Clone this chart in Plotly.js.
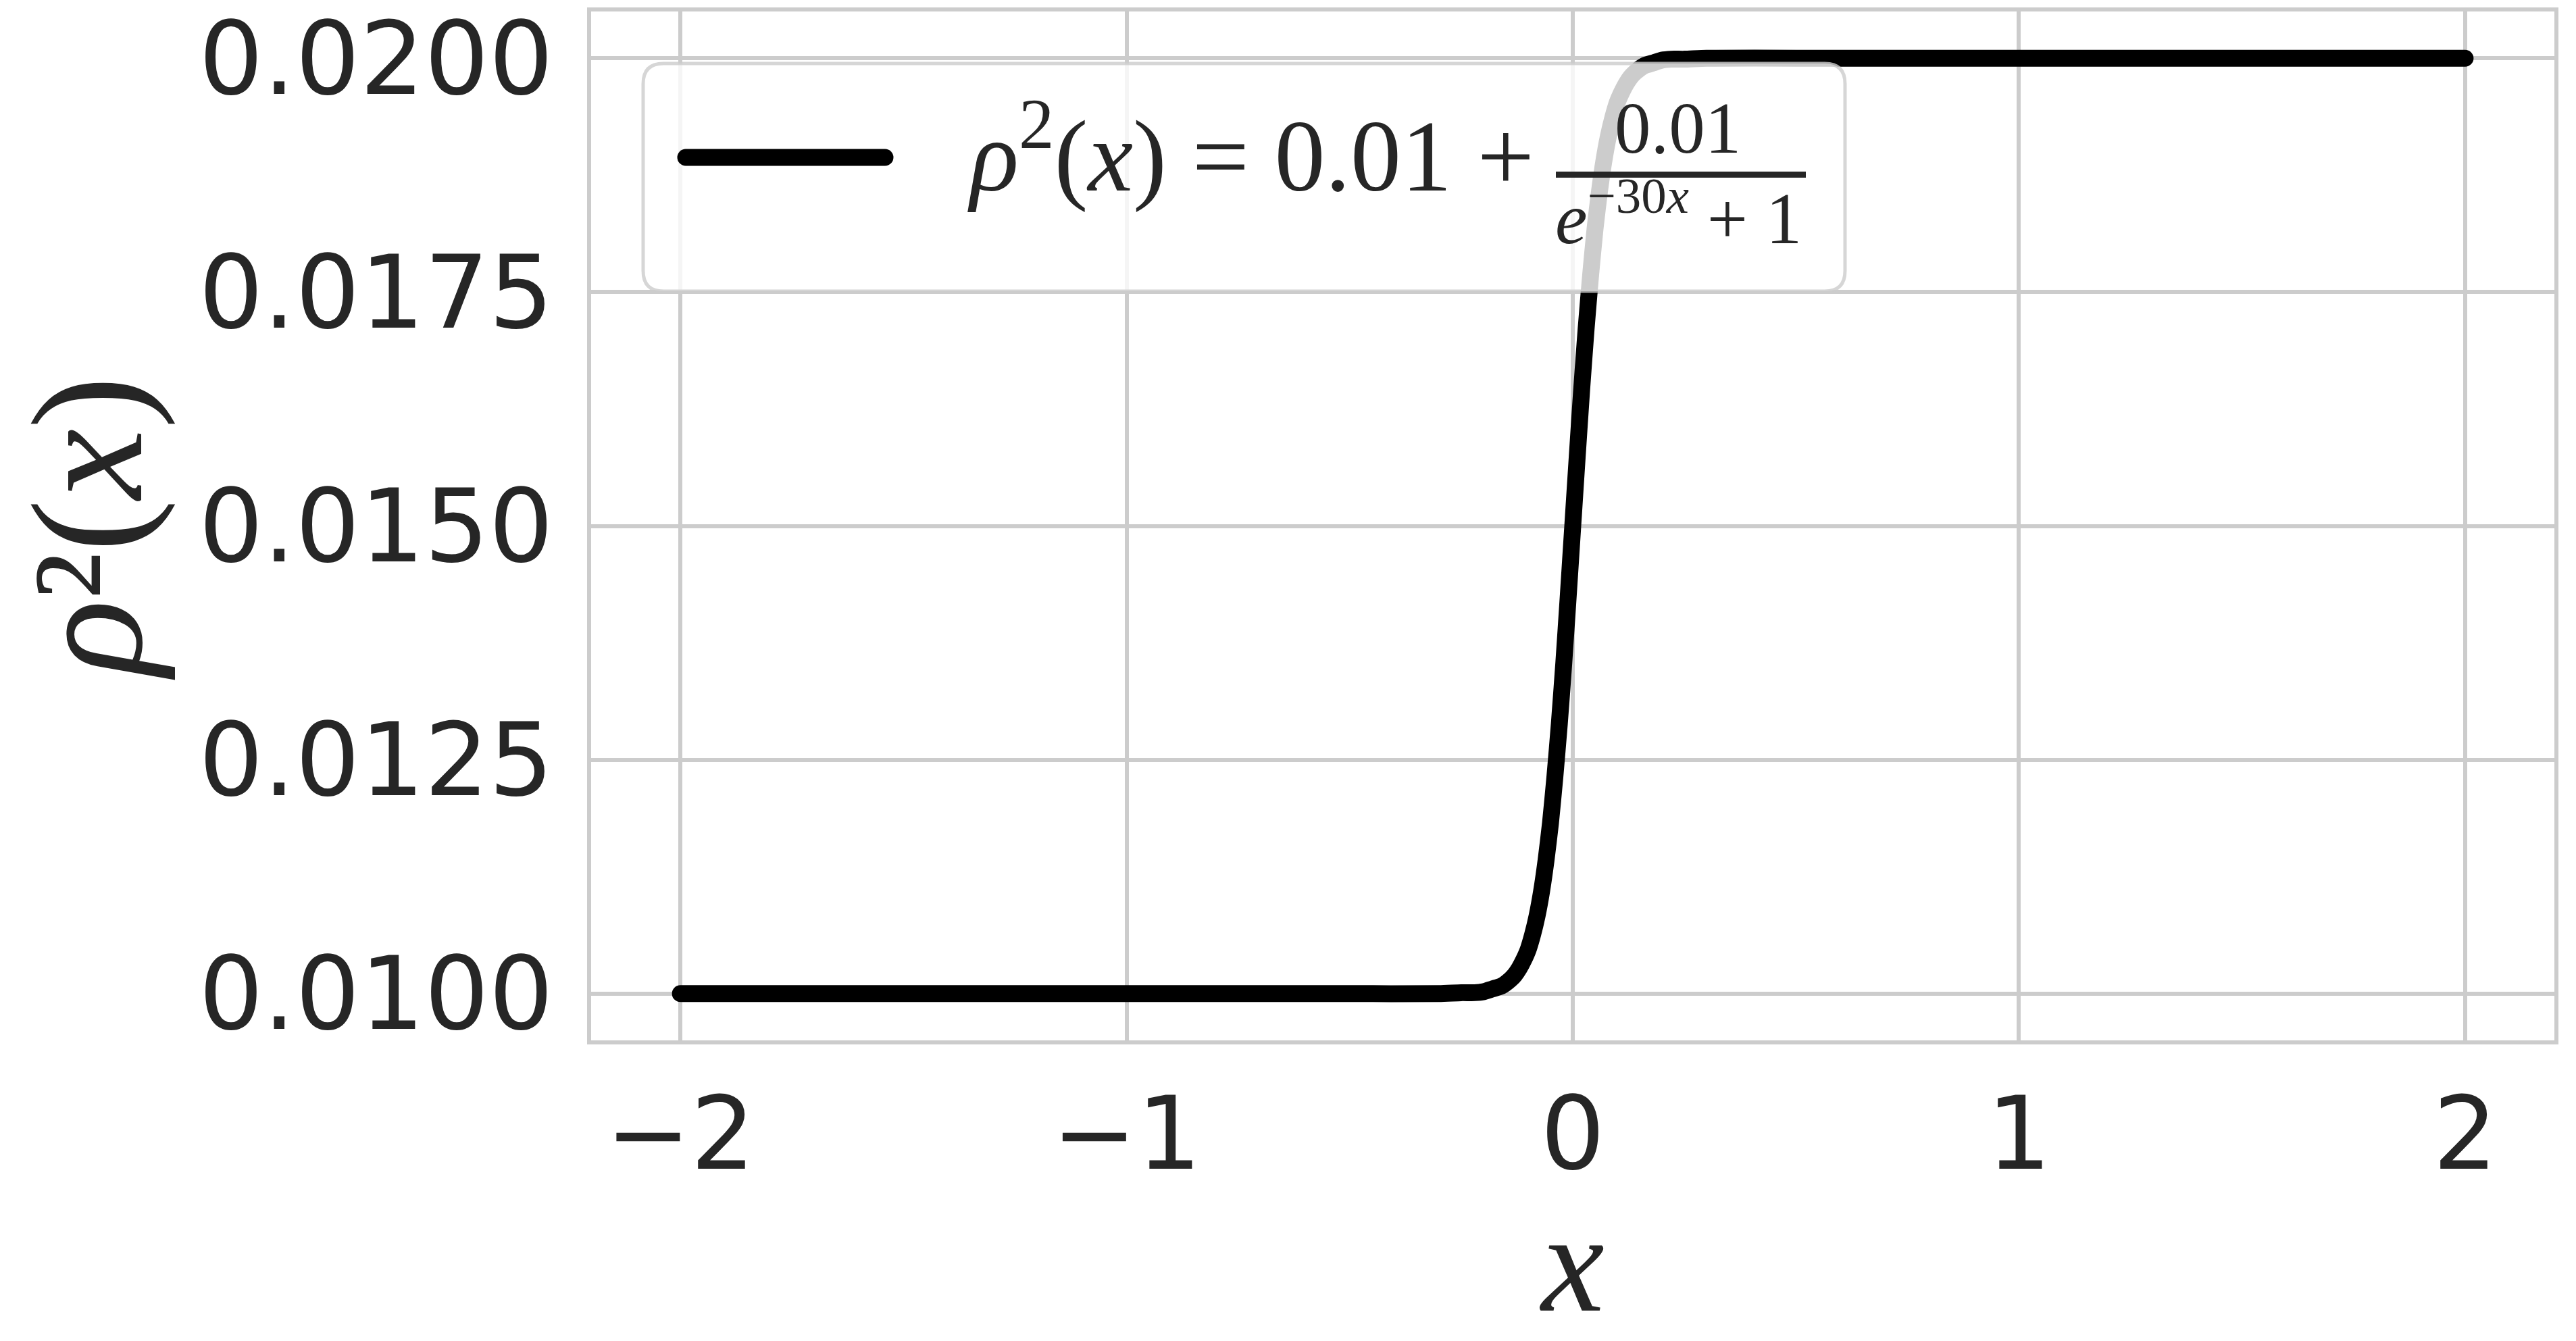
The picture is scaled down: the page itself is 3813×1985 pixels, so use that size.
<!DOCTYPE html>
<html>
<head>
<meta charset="utf-8">
<script src="https://cdn.plot.ly/plotly-3.0.1.min.js"></script>
<style>
  html, body { margin: 0; padding: 0; background: #ffffff; }
  #chart { width: 3813px; height: 1985px; }
  .scatterlayer .js-line { stroke-linecap: round; stroke-linejoin: round; }
  .shapelayer path { stroke-linecap: round; }
</style>
</head>
<body>
<div id="chart"></div>
<script>
// ---- data ----
var xValues = [-2.0, -1.0, -0.5, -0.3, -0.25, -0.22, -0.2, -0.18, -0.16, -0.14, -0.13, -0.12, -0.11, -0.10,
               -0.09, -0.08, -0.07, -0.06, -0.05, -0.04, -0.03, -0.02, -0.01, 0.0,
               0.01, 0.02, 0.03, 0.04, 0.05, 0.06, 0.07, 0.08, 0.09, 0.10, 0.11, 0.12, 0.13, 0.14,
               0.16, 0.18, 0.2, 0.22, 0.25, 0.3, 0.5, 1.0, 2.0];
var rhoSquared = [0.01000, 0.01000, 0.01000, 0.01000, 0.01001, 0.01001, 0.01002, 0.01005, 0.01008, 0.01015, 0.01020, 0.01027, 0.01036, 0.01047,
                  0.01063, 0.01083, 0.01109, 0.01142, 0.01182, 0.01232, 0.01289, 0.01354, 0.01426, 0.01500,
                  0.01574, 0.01646, 0.01711, 0.01768, 0.01818, 0.01858, 0.01891, 0.01917, 0.01937, 0.01953, 0.01964, 0.01973, 0.01980, 0.01985,
                  0.01992, 0.01995, 0.01998, 0.01999, 0.01999, 0.02000, 0.02000, 0.02000, 0.02000];
var xTickVals = [-2, -1, 0, 1, 2];
var xTickText = ["\u22122", "\u22121", "0", "1", "2"];
var yTickVals = [0.0100, 0.0125, 0.0150, 0.0175, 0.0200];
var yTickText = ["0.0100", "0.0125", "0.0150", "0.0175", "0.0200"];
var seriesName = "\u03c1\u00b2(x) = 0.01 + 0.01/(e\u207b\u00b3\u2070\u02e3 + 1)";

// ---- layout geometry (pixels) ----
var W = 3813, H = 1985;
var L = 875, R = 3781, T = 17, B = 1540;
function px(p) { return (p - L) / (R - L); }
function py(p) { return (B - p) / (B - T); }

var textColor = "#262626";
var serif = "Liberation Serif, Times New Roman, serif";

// rounded legend frame path (paper coords)
function roundedRect(x0, y0, x1, y1, r) {
  function P(a, b) { return px(a).toFixed(5) + "," + py(b).toFixed(5); }
  return "M" + P(x0 + r, y0) + " L" + P(x1 - r, y0) + " Q" + P(x1, y0) + " " + P(x1, y0 + r) +
         " L" + P(x1, y1 - r) + " Q" + P(x1, y1) + " " + P(x1 - r, y1) +
         " L" + P(x0 + r, y1) + " Q" + P(x0, y1) + " " + P(x0, y1 - r) +
         " L" + P(x0, y0 + r) + " Q" + P(x0, y0) + " " + P(x0 + r, y0) + " Z";
}

var trace = {
  x: xValues,
  y: rhoSquared,
  type: "scatter",
  mode: "lines",
  name: seriesName,
  line: { color: "#000000", width: 25, shape: "spline", smoothing: 0.6 },
  showlegend: false,
  hoverinfo: "x+y"
};

var layout = {
  width: W, height: H,
  margin: { l: L, r: W - R, t: T, b: H - B, pad: 0 },
  paper_bgcolor: "#ffffff",
  plot_bgcolor: "#ffffff",
  showlegend: false,
  xaxis: {
    range: [-2.2, 2.2],
    tickmode: "array", tickvals: xTickVals, ticktext: xTickText,
    ticks: "", ticklabelstandoff: 4, ticklabeloverflow: "allow",
    tickfont: { family: "DejaVu Sans", size: 150, color: textColor },
    showgrid: true, gridcolor: "#cccccc", gridwidth: 6,
    zeroline: false,
    showline: true, linecolor: "#cccccc", linewidth: 6, mirror: true,
    title: { text: "<i>x</i>", font: { family: serif, size: 210, color: textColor }, standoff: 154 }
  },
  yaxis: {
    range: [0.0095, 0.0205],
    tickmode: "array", tickvals: yTickVals, ticktext: yTickText,
    ticks: "", ticklabelstandoff: 20, ticklabeloverflow: "allow",
    tickfont: { family: "DejaVu Sans", size: 150, color: textColor },
    showgrid: true, gridcolor: "#cccccc", gridwidth: 6,
    zeroline: false,
    showline: true, linecolor: "#cccccc", linewidth: 6, mirror: true,
    title: { text: "<i>\u03c1</i>\u00b2(<i>x</i>)", font: { family: serif, size: 235, color: textColor }, standoff: 118 }
  },
  shapes: [
    { type: "path", xref: "paper", yref: "paper", layer: "above",
      path: roundedRect(952, 94, 2731, 431, 30),
      fillcolor: "rgba(255,255,255,0.8)",
      line: { color: "rgba(204,204,204,0.8)", width: 5 } },
    { type: "line", xref: "paper", yref: "paper", layer: "above",
      x0: px(1015), x1: px(1310), y0: py(233), y1: py(233),
      line: { color: "#000000", width: 25 } },
    { type: "rect", xref: "paper", yref: "paper", layer: "above",
      x0: px(2303), x1: px(2673), y0: py(254), y1: py(263),
      fillcolor: textColor, line: { width: 0 } }
  ],
  annotations: [
    { xref: "paper", yref: "paper", x: px(1432), y: py(315), xanchor: "left", yanchor: "bottom",
      showarrow: false, borderpad: 0, borderwidth: 0,
      text: "<i>\u03c1</i><sup>2</sup>(<i>x</i>) = 0.01 +",
      font: { family: serif, size: 150, color: textColor } },
    { xref: "paper", yref: "paper", x: px(2483), y: py(249), xanchor: "center", yanchor: "bottom",
      showarrow: false, borderpad: 0, borderwidth: 0,
      text: "0.01",
      font: { family: serif, size: 107, color: textColor } },
    { xref: "paper", yref: "paper", x: px(2302), y: py(383), xanchor: "left", yanchor: "bottom",
      showarrow: false, borderpad: 0, borderwidth: 0,
      text: "<i>e</i><sup>\u221230<i>x</i></sup> + 1",
      font: { family: serif, size: 107, color: textColor } }
  ]
};

Plotly.newPlot("chart", [trace], layout, { displayModeBar: false, staticPlot: true });
</script>
</body>
</html>
